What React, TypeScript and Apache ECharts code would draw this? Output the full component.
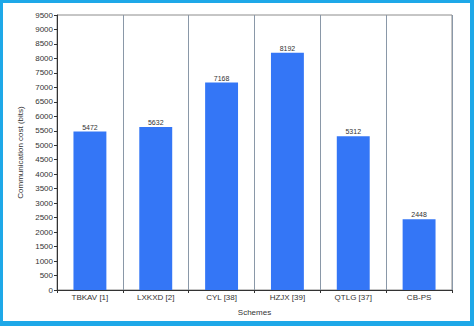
import React, { useEffect, useRef } from "react";
import * as echarts from "echarts";

const categories = ["TBKAV [1]", "LXKXD [2]", "CYL [38]", "HZJX [39]", "QTLG [37]", "CB-PS"];
const costs = [5472, 5632, 7168, 8192, 5312, 2448];
const yMin = 0;
const yMax = 9500;
const yStep = 500;

export default function App() {
  const ref = useRef<HTMLDivElement>(null);
  useEffect(() => {
    document.body.style.margin = "0";
    const chart = echarts.init(ref.current!, undefined, { renderer: "svg" });
    const font = "'Liberation Sans', Arial, sans-serif";
    chart.setOption({
      animation: false,
      backgroundColor: "#ffffff",
      grid: {
        left: 54,
        top: 12,
        right: 18,
        bottom: 26,
        show: true,
        borderColor: "#8c8c8c",
        borderWidth: 1,
      },
      xAxis: {
        type: "category",
        data: categories,
        boundaryGap: true,
        name: "Schemes",
        nameLocation: "middle",
        nameGap: 18,
        nameTextStyle: { fontFamily: font, fontSize: 8, color: "#333" },
        axisLine: { show: true, lineStyle: { color: "#333", width: 1 } },
        axisTick: { show: true, length: 3, lineStyle: { color: "#333" } },
        axisLabel: { fontFamily: font, fontSize: 8, color: "#333", margin: 3 },
        splitLine: { show: true, lineStyle: { color: "#8a98a8", width: 1 } },
      },
      yAxis: {
        type: "value",
        min: yMin,
        max: yMax,
        interval: yStep,
        name: "Communication cost (bits)",
        nameLocation: "middle",
        nameGap: 25,
        nameTextStyle: { fontFamily: font, fontSize: 8, color: "#333" },
        axisLine: { show: true, lineStyle: { color: "#333", width: 1 } },
        axisTick: { show: true, length: 3, lineStyle: { color: "#333" } },
        axisLabel: {
          fontFamily: font,
          fontSize: 8,
          color: "#333",
          margin: 4,
          formatter: (v: number) => String(v),
        },
        splitLine: { show: false },
      },
      series: [
        {
          type: "bar",
          data: costs,
          barWidth: "50%",
          itemStyle: { color: "#3476f6" },
          label: {
            show: true,
            position: "top",
            distance: 1,
            fontFamily: font,
            fontSize: 7,
            color: "#333",
          },
        },
      ],
    });
    return () => chart.dispose();
  }, []);
  return (
    <div
      style={{
        position: "fixed",
        left: 0,
        top: 0,
        width: 474,
        height: 326,
        boxSizing: "border-box",
        borderStyle: "solid",
        borderColor: "#1ea8e8",
        borderWidth: "3px 4px 5px 3px",
        background: "#fff",
      }}
    >
      <div ref={ref} style={{ width: 467, height: 318 }} />
    </div>
  );
}
